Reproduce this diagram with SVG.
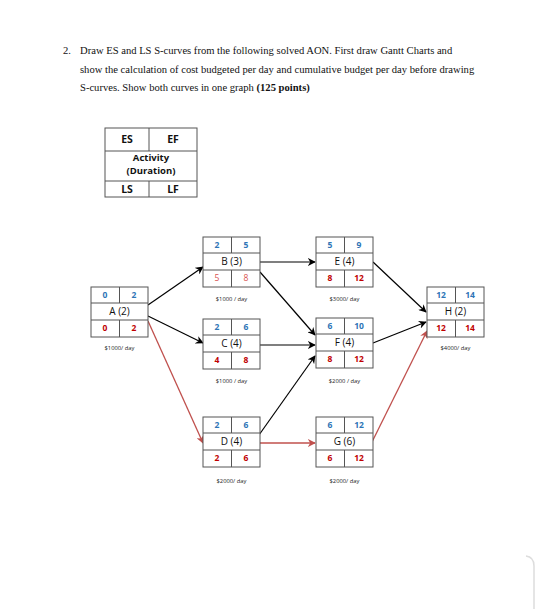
<svg xmlns="http://www.w3.org/2000/svg" width="540" height="609" viewBox="0 0 540 609">
<defs>
<marker id="ab" viewBox="0 0 10 10" refX="9" refY="5" markerWidth="8" markerHeight="8" orient="auto" markerUnits="userSpaceOnUse">
<path d="M0,0 L10,5 L0,10 L3,5 z" fill="#000"/>
</marker>
<marker id="ar" viewBox="0 0 10 10" refX="9" refY="5" markerWidth="8" markerHeight="8" orient="auto" markerUnits="userSpaceOnUse">
<path d="M0,0 L10,5 L0,10 L3,5 z" fill="#c0504d"/>
</marker>
<style>
.hd{font-family:"Liberation Serif","Times New Roman",serif;font-size:10.6px;fill:#111}
.box{fill:#fff;stroke:#555;stroke-width:1}
.ln{stroke:#555;stroke-width:1}
.num{font-family:"Open Sans","Liberation Sans",Arial,sans-serif;font-size:8.5px;font-weight:bold;text-anchor:middle}
.es{fill:#2e75b6}
.ls{fill:#c00000}
.lsl{fill:#d9534f;font-weight:normal}
.act{font-family:"Open Sans","Liberation Sans",Arial,sans-serif;font-size:10px;fill:#111;text-anchor:middle}
.cost{font-family:"Open Sans","Liberation Sans",Arial,sans-serif;font-size:5.8px;fill:#222;text-anchor:middle}
.lg{font-family:"Open Sans","Liberation Sans",Arial,sans-serif;font-weight:bold;fill:#111;text-anchor:middle}
.eb{stroke:#000;stroke-width:1.2;fill:none;marker-end:url(#ab)}
.er{stroke:#c0504d;stroke-width:1.3;fill:none;marker-end:url(#ar)}
</style>
</defs>
<rect width="540" height="609" fill="#fff"/>
<g id="header">
<text class="hd" x="63" y="54">2.</text>
<text class="hd" x="80" y="54">Draw ES and LS S-curves from the following solved AON. First draw Gantt Charts and</text>
<text class="hd" x="80" y="73">show the calculation of cost budgeted per day and cumulative budget per day before drawing</text>
<text class="hd" x="80" y="91">S-curves. Show both curves in one graph <tspan font-weight="bold">(125 points)</tspan></text>
</g>
<g id="legend">
<rect class="box" x="105" y="128" width="92" height="69"/>
<line class="ln" x1="105" y1="151" x2="197" y2="151"/>
<line class="ln" x1="105" y1="181" x2="197" y2="181"/>
<line class="ln" x1="149" y1="128" x2="149" y2="151"/>
<line class="ln" x1="149" y1="181" x2="149" y2="197"/>
<text class="lg" x="127" y="143" font-size="10.5">ES</text>
<text class="lg" x="173" y="143" font-size="10.5">EF</text>
<text class="lg" x="151" y="161" font-size="9.5">Activity</text>
<text class="lg" x="151" y="174" font-size="9.5">(Duration)</text>
<text class="lg" x="127" y="193" font-size="10.5">LS</text>
<text class="lg" x="173" y="193" font-size="10.5">LF</text>
</g>
<g id="connectors">
<line class="eb" x1="148" y1="305" x2="203" y2="267"/>
<line class="eb" x1="148" y1="316" x2="203" y2="343"/>
<line class="er" x1="148" y1="321" x2="203" y2="443"/>
<line class="eb" x1="260" y1="262" x2="315" y2="262"/>
<line class="eb" x1="260" y1="272" x2="315" y2="335"/>
<line class="eb" x1="260" y1="345" x2="315" y2="345"/>
<line class="eb" x1="259" y1="435" x2="315" y2="356"/>
<line class="er" x1="260" y1="443" x2="315" y2="443"/>
<line class="eb" x1="373" y1="262" x2="426" y2="312"/>
<line class="eb" x1="373" y1="343" x2="426" y2="322"/>
<line class="er" x1="372" y1="442" x2="427" y2="331"/>
</g>
<g id="nodeA">
<rect class="box" x="91" y="287" width="57" height="50"/>
<line class="ln" x1="91" y1="303" x2="148" y2="303"/><line class="ln" x1="91" y1="320" x2="148" y2="320"/>
<line class="ln" x1="119.5" y1="287" x2="119.5" y2="303"/><line class="ln" x1="119.5" y1="320" x2="119.5" y2="337"/>
<text class="num es" x="105" y="298">0</text><text class="num es" x="134" y="298">2</text>
<text class="act" x="119.5" y="315">A (2)</text>
<text class="num ls" x="105" y="331">0</text><text class="num ls" x="134" y="331">2</text>
<text class="cost" x="119.5" y="350">$1000/ day</text>
</g>
<g id="nodeB">
<rect class="box" x="203" y="237" width="57" height="50"/>
<line class="ln" x1="203" y1="253" x2="260" y2="253"/><line class="ln" x1="203" y1="270" x2="260" y2="270"/>
<line class="ln" x1="231.5" y1="237" x2="231.5" y2="253"/><line class="ln" x1="231.5" y1="270" x2="231.5" y2="287"/>
<text class="num es" x="217" y="248">2</text><text class="num es" x="246" y="248">5</text>
<text class="act" x="231.5" y="265">B (3)</text>
<text class="num lsl" x="217" y="281">5</text><text class="num lsl" x="246" y="281">8</text>
<text class="cost" x="231.5" y="301">$1000 / day</text>
</g>
<g id="nodeC">
<rect class="box" x="203" y="319" width="57" height="50"/>
<line class="ln" x1="203" y1="335" x2="260" y2="335"/><line class="ln" x1="203" y1="352" x2="260" y2="352"/>
<line class="ln" x1="231.5" y1="319" x2="231.5" y2="335"/><line class="ln" x1="231.5" y1="352" x2="231.5" y2="369"/>
<text class="num es" x="217" y="330">2</text><text class="num es" x="246" y="330">6</text>
<text class="act" x="231.5" y="347">C (4)</text>
<text class="num ls" x="217" y="363">4</text><text class="num ls" x="246" y="363">8</text>
<text class="cost" x="231.5" y="383">$1000 / day</text>
</g>
<g id="nodeD">
<rect class="box" x="203" y="417" width="57" height="50"/>
<line class="ln" x1="203" y1="433" x2="260" y2="433"/><line class="ln" x1="203" y1="450" x2="260" y2="450"/>
<line class="ln" x1="231.5" y1="417" x2="231.5" y2="433"/><line class="ln" x1="231.5" y1="450" x2="231.5" y2="467"/>
<text class="num es" x="217" y="428">2</text><text class="num es" x="246" y="428">6</text>
<text class="act" x="231.5" y="445">D (4)</text>
<text class="num ls" x="217" y="461">2</text><text class="num ls" x="246" y="461">6</text>
<text class="cost" x="231.5" y="483">$2000/ day</text>
</g>
<g id="nodeE">
<rect class="box" x="316" y="237" width="57" height="50"/>
<line class="ln" x1="316" y1="253" x2="373" y2="253"/><line class="ln" x1="316" y1="270" x2="373" y2="270"/>
<line class="ln" x1="344.5" y1="237" x2="344.5" y2="253"/><line class="ln" x1="344.5" y1="270" x2="344.5" y2="287"/>
<text class="num es" x="330" y="248">5</text><text class="num es" x="359" y="248">9</text>
<text class="act" x="344.5" y="265">E (4)</text>
<text class="num ls" x="330" y="281">8</text><text class="num ls" x="359" y="281">12</text>
<text class="cost" x="344.5" y="301">$3000/ day</text>
</g>
<g id="nodeF">
<rect class="box" x="316" y="318" width="57" height="50"/>
<line class="ln" x1="316" y1="334" x2="373" y2="334"/><line class="ln" x1="316" y1="351" x2="373" y2="351"/>
<line class="ln" x1="344.5" y1="318" x2="344.5" y2="334"/><line class="ln" x1="344.5" y1="351" x2="344.5" y2="368"/>
<text class="num es" x="330" y="329">6</text><text class="num es" x="359" y="329">10</text>
<text class="act" x="344.5" y="346">F (4)</text>
<text class="num ls" x="330" y="362">8</text><text class="num ls" x="359" y="362">12</text>
<text class="cost" x="344.5" y="383">$2000 / day</text>
</g>
<g id="nodeG">
<rect class="box" x="316" y="417" width="57" height="50"/>
<line class="ln" x1="316" y1="433" x2="373" y2="433"/><line class="ln" x1="316" y1="450" x2="373" y2="450"/>
<line class="ln" x1="344.5" y1="417" x2="344.5" y2="433"/><line class="ln" x1="344.5" y1="450" x2="344.5" y2="467"/>
<text class="num es" x="330" y="428">6</text><text class="num es" x="359" y="428">12</text>
<text class="act" x="344.5" y="445">G (6)</text>
<text class="num ls" x="330" y="461">6</text><text class="num ls" x="359" y="461">12</text>
<text class="cost" x="344.5" y="483">$2000/ day</text>
</g>
<g id="nodeH">
<rect class="box" x="427" y="287" width="57" height="50"/>
<line class="ln" x1="427" y1="303" x2="484" y2="303"/><line class="ln" x1="427" y1="320" x2="484" y2="320"/>
<line class="ln" x1="455.5" y1="287" x2="455.5" y2="303"/><line class="ln" x1="455.5" y1="320" x2="455.5" y2="337"/>
<text class="num es" x="441" y="298">12</text><text class="num es" x="470" y="298">14</text>
<text class="act" x="455.5" y="315">H (2)</text>
<text class="num ls" x="441" y="331">12</text><text class="num ls" x="470" y="331">14</text>
<text class="cost" x="455.5" y="350">$4000/ day</text>
</g>
<path d="M526,556 Q534,557 534,566 L534,609" fill="none" stroke="#ddd" stroke-width="1.5"/>
</svg>
